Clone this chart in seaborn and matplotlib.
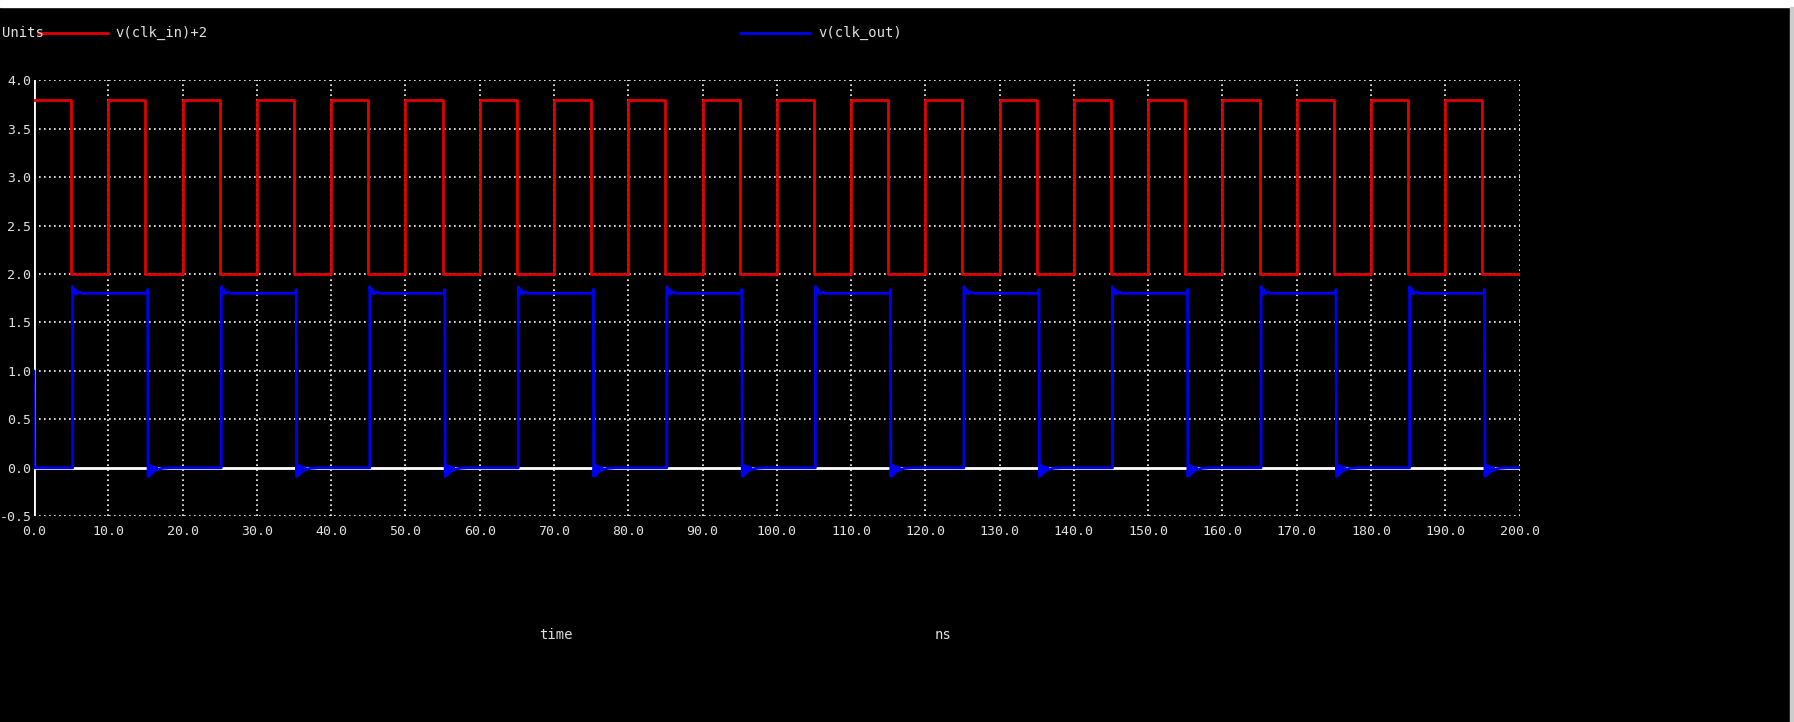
import numpy as np
import pandas as pd
import matplotlib
matplotlib.use("Agg")
import matplotlib.pyplot as plt
import seaborn as sns

# clk_in + 2 : high 3.8 / low 2.0, edges every 5 ns
clk_in_high = 3.8
clk_in_low = 2.0
clk_in_edges = [0, 5, 10, 15, 20, 25, 30, 35, 40, 45, 50, 55, 60, 65, 70, 75, 80, 85, 90, 95,
                100, 105, 110, 115, 120, 125, 130, 135, 140, 145, 150, 155, 160, 165, 170, 175,
                180, 185, 190, 195, 200]

# clk_out : rises ~5.2 ns, falls ~15.3 ns, period 20 ns
clk_out_rise = [5.2, 25.2, 45.2, 65.2, 85.2, 105.2, 125.2, 145.2, 165.2, 185.2]
clk_out_fall = [15.3, 35.3, 55.3, 75.3, 95.3, 115.3, 135.3, 155.3, 175.3, 195.3]
clk_out_high = 1.8
clk_out_low = 0.0
clk_out_start = 1.0
# ringing templates (ns offset, value)
rise_ring_t = [0.0, 0.15, 0.35, 0.6, 0.9, 1.3]
rise_ring_v = [1.87, 1.79, 1.84, 1.795, 1.815, 1.80]
fall_pre_v = 1.84
fall_ring_t = [0.0, 0.1, 0.2, 0.3, 0.4, 0.5, 0.6, 0.75, 0.9, 1.1, 1.3, 1.6, 2.0, 2.5, 3.0]
fall_ring_v = [-0.09, 0.03, -0.08, 0.02, -0.065, 0.015, -0.05, 0.01, -0.035, 0.005, -0.02, -0.01, -0.005, -0.002, 0.0]

# build red trace
rx, ry = [], []
level = clk_in_high
for i, t in enumerate(clk_in_edges[:-1]):
    rx += [t, clk_in_edges[i + 1]]
    ry += [level, level]
    level = clk_in_low if level == clk_in_high else clk_in_high
red = pd.DataFrame({"t": rx, "v": ry})

# build blue trace
bx, by = [0.0, 0.05], [clk_out_start, clk_out_low]
for r, f in zip(clk_out_rise, clk_out_fall):
    bx += [r]; by += [clk_out_low]
    bx += [r + dt for dt in rise_ring_t]; by += rise_ring_v
    bx += [f - 0.1, f]; by += [clk_out_high, fall_pre_v]
    bx += [f + 0.05 + dt for dt in fall_ring_t]; by += fall_ring_v
bx += [200]; by += [clk_out_low]
blue = pd.DataFrame({"t": bx, "v": by})

sns.set_style("dark")
plt.rcParams["font.family"] = ["DejaVu Sans Mono"]
fig = plt.figure(figsize=(17.94, 7.22), dpi=100, facecolor="black")
fig.patches.append(matplotlib.patches.Rectangle((0, 0.99), 1, 0.01, transform=fig.transFigure,
                                                 color="white", zorder=0))
fig.patches.append(matplotlib.patches.Rectangle((0.9975, 0), 0.0025, 0.99, transform=fig.transFigure,
                                                 color="#cccccc", zorder=0))
ax = fig.add_axes([0.019, 0.285, 0.828, 0.604])
ax.set_facecolor("black")
for ys in [-0.5, 0.5, 1.0, 1.5, 2.0, 2.5, 3.0, 3.5, 4.0]:
    ax.axhline(ys, color="white", lw=1.2, ls=(0, (1, 2)), zorder=1)
for xs in np.arange(10, 201, 10):
    ax.axvline(xs, color="white", lw=1.2, ls=(0, (1, 2)), zorder=1)
ax.axhline(0, color="white", lw=2, zorder=1)
ax.axvline(0, color="white", lw=2, zorder=1)

sns.lineplot(data=red, x="t", y="v", ax=ax, color="#e00000", lw=2, sort=False, estimator=None, zorder=3)
sns.lineplot(data=blue, x="t", y="v", ax=ax, color="#0000f0", lw=2, sort=False, estimator=None, zorder=3)

ax.set_xlim(0, 200)
ax.set_ylim(-0.5, 4.0)
ax.set_xticks(np.arange(0, 201, 10))
ax.set_xticklabels([f"{v:.1f}" for v in np.arange(0, 201, 10)])
ax.set_yticks(np.arange(-0.5, 4.01, 0.5))
ax.set_yticklabels([f"{v:.1f}" for v in np.arange(-0.5, 4.01, 0.5)])
ax.tick_params(colors="#e0e0e0", labelsize=9.5, length=0, pad=2)
ax.tick_params(axis="x", pad=6)
ax.grid(False)
for s in ax.spines.values():
    s.set_visible(False)
ax.set_xlabel("")
ax.set_ylabel("")

fig.text(2 / 1794, 1 - 33 / 722, "Units", color="#e0e0e0", fontsize=10, va="center")
fig.add_artist(matplotlib.lines.Line2D([38 / 1794, 108 / 1794], [1 - 33 / 722] * 2, color="#e00000", lw=2))
fig.text(115 / 1794, 1 - 33 / 722, "v(clk_in)+2", color="#e0e0e0", fontsize=10, va="center")
fig.add_artist(matplotlib.lines.Line2D([740 / 1794, 810 / 1794], [1 - 33 / 722] * 2, color="#0000f0", lw=2))
fig.text(818 / 1794, 1 - 33 / 722, "v(clk_out)", color="#e0e0e0", fontsize=10, va="center")
fig.text(556 / 1794, 1 - 635 / 722, "time", color="#e0e0e0", fontsize=10, va="center", ha="center")
fig.text(943 / 1794, 1 - 635 / 722, "ns", color="#e0e0e0", fontsize=10, va="center", ha="center")

fig.savefig("out.png", dpi=100, facecolor="black")
